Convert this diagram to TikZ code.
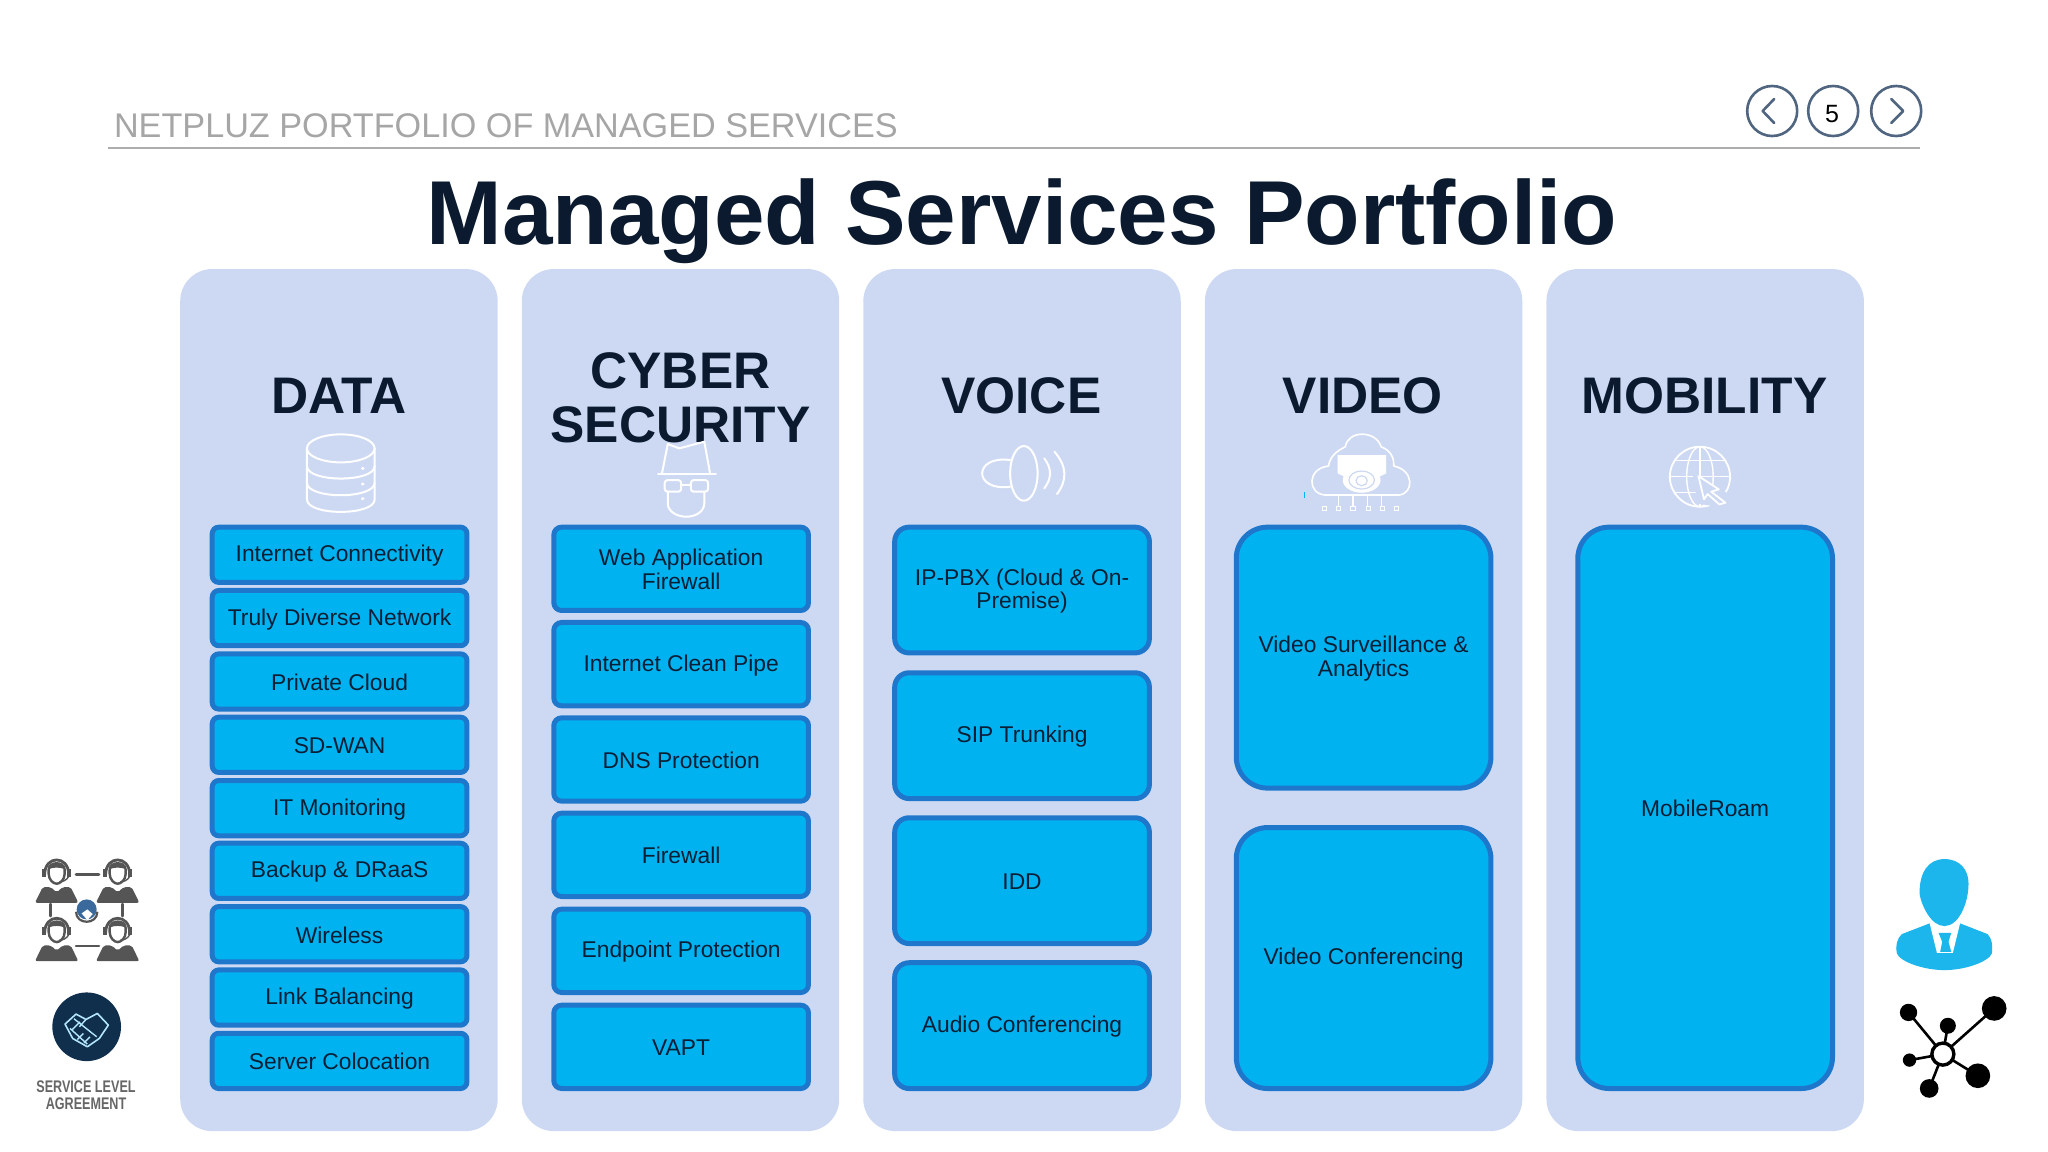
\documentclass[tikz,border=0pt]{standalone}
\usepackage{fontspec}
\setmainfont{Liberation Sans}
\definecolor{panelc}{HTML}{CDD9F3}
\definecolor{boxfill}{HTML}{00B3F0}
\definecolor{boxline}{HTML}{1F77CC}
\definecolor{navy}{HTML}{0B1A2E}
\definecolor{boxtext}{HTML}{0A1F35}
\definecolor{navc}{HTML}{50657F}
\definecolor{agent}{HTML}{555555}
\definecolor{slac}{HTML}{0F2F4C}
\definecolor{person}{HTML}{1CB5EC}
\definecolor{hubblue}{HTML}{3A6A9C}
\tikzset{
 panel/.style={fill=panelc,draw=none,outer sep=0pt,inner sep=0pt},
 svcbox/.style={fill=boxfill,draw=boxline,line width=2.5pt,outer sep=0pt,inner sep=0pt,text=boxtext,align=center,font=\fontsize{11.4}{11.8}\selectfont},
 colhead/.style={text=navy,anchor=base,inner sep=0pt,font=\bfseries\fontsize{25.7}{27}\selectfont,align=center},
 navcirc/.style={draw=navc,line width=1.3pt,fill=white,circle,minimum size=25pt,inner sep=0pt},
 navchev/.style={draw=navc,line width=1.3pt,line cap=round,line join=round},
 ico/.style={draw=white,line width=1pt,line cap=round,line join=round},
 agentln/.style={draw=agent,line width=1.3pt,line cap=round},
}
\newcommand\svc[7]{%
 \pgfmathsetmacro\cxx{(#2+#4)/2}\pgfmathsetmacro\cyy{(#3+#5)/2}%
 \pgfmathsetmacro\ww{(#4-#2-2)*.653}\pgfmathsetmacro\hh{(#5-#3-1.2)*.653}\pgfmathsetmacro\rr{#6*.653}%
 \node[svcbox,rounded corners=\rr pt,minimum width=\ww pt,minimum height=\hh pt] (#1) at (\cxx,\cyy) {\rule{0pt}{9.3pt}#7\rule[-.5pt]{0pt}{.5pt}};}
\newcommand\pnl[2]{%
 \pgfmathsetmacro\cxx{#2+121.5}%
 \node[panel,rounded corners=16pt,minimum width=158.7pt,minimum height=431pt] (#1) at (\cxx,536) {};}
\newcommand\agentico[2]{%
 \begin{scope}[shift={(#1*.16667pt,-#2*.16667pt)}]
  \fill[agent,rounded corners=1pt] (-65,93) -- (-42,46) -- (-18,46) -- (0,62) -- (18,46) -- (42,46) -- (65,93) -- cycle;
  \draw[agent,line width=1.4pt] (-36,8) .. controls (-36,-50) and (36,-50) .. (36,8);
  \fill[agent] (-44,-8) rectangle (-32,16);
  \fill[agent] (32,-8) rectangle (44,16);
  \draw[agent,line width=1.2pt,fill=white] (-24,-6) .. controls (-24,-32) and (24,-32) .. (24,-6) -- (24,6) .. controls (24,24) and (10,36) .. (0,36) .. controls (-10,36) and (-24,24) .. (-24,6) -- cycle;
  \fill[agent] (-24,-8) .. controls (-24,-30) and (24,-30) .. (24,-8) .. controls (8,-14) and (-8,-14) .. (-24,-8) -- cycle;
  \draw[agent,line width=.7pt] (36,14) .. controls (30,26) and (18,30) .. (8,30);
 \end{scope}}
\begin{document}
\begin{tikzpicture}[x=.653pt,y=-.653pt]
\useasboundingbox (0,0) rectangle (1568,882);
\fill[white] (0,0) rectangle (1568,882);
% heading
\node[anchor=base west,inner sep=0pt,text=black!35,font=\fontsize{17.1}{20}\selectfont] (hdr) at (87,105) {NETPLUZ PORTFOLIO OF MANAGED SERVICES};
\coordinate (ruleL) at (83,113.3);
\coordinate (ruleR) at (1470,113.3);
\draw[black!32,line width=1.2pt] (ruleL) -- (ruleR);
\node[anchor=base,inner sep=0pt,text=navy,font=\bfseries\fontsize{45.4}{50}\selectfont] (title) at (782.5,187) {Managed Services Portfolio};
% panels
\pnl{p1}{138}\pnl{p2}{399.5}\pnl{p3}{661}\pnl{p4}{922.5}\pnl{p5}{1184}
% heads
\node[colhead] (hd1) at (259.5,316.5) {DATA};
\node[colhead] (hd2a) at (521,297.5) {CYBER};
\node[colhead] (hd2b) at (521,339) {SECURITY};
\node[colhead] (hd3) at (782,316.5) {VOICE};
\node[colhead] (hd4) at (1043.5,316.5) {VIDEO};
\node[colhead] (hd5) at (1305,316.5) {MOBILITY};
% data
\svc{d1}{161.5}{403}{358.5}{446.5}{5}{Internet Connectivity}
\svc{d2}{161.5}{451.5}{358.5}{495}{5}{Truly Diverse Network}
\svc{d3}{161.5}{500}{358.5}{543.5}{5}{Private Cloud}
\svc{d4}{161.5}{548.5}{358.5}{592}{5}{SD-WAN}
\svc{d5}{161.5}{597}{358.5}{640.5}{5}{IT Monitoring}
\svc{d6}{161.5}{645}{358.5}{688.5}{5}{Backup \& DRaaS}
\svc{d7}{161.5}{693.5}{358.5}{737}{5}{Wireless}
\svc{d8}{161.5}{742}{358.5}{785.5}{5}{Link Balancing}
\svc{d9}{161.5}{790.5}{358.5}{834}{5}{Server Colocation}
% cyber
\svc{c1}{423}{403}{620}{468}{6}{Web Application\\Firewall}
\svc{c2}{423}{476}{620}{541}{6}{Internet Clean Pipe}
\svc{c3}{423}{549}{620}{614}{6}{DNS Protection}
\svc{c4}{423}{622}{620}{687}{6}{Firewall}
\svc{c5}{423}{695.5}{620}{760.5}{6}{Endpoint Protection}
\svc{c6}{423}{769}{620}{834}{6}{VAPT}
% voice
\svc{v1}{684}{403}{881}{500.5}{11}{IP-PBX (Cloud \& On-\\Premise)}
\svc{v2}{684}{514.5}{881}{612}{11}{SIP Trunking}
\svc{v3}{684}{625.5}{881}{723}{11}{IDD}
\svc{v4}{684}{736.5}{881}{834}{11}{Audio Conferencing}
% video
\svc{w1}{945.5}{403}{1142.5}{604}{24}{Video Surveillance \&\\Analytics}
\svc{w2}{945.5}{633}{1142.5}{834}{24}{Video Conferencing}
% mobility
\svc{m1}{1207}{403}{1404}{834}{24}{MobileRoam}
% nav (real px /2)
\begin{scope}[x=.5pt,y=-.5pt]
 \node[navcirc] (navL) at (1772,111) {};
 \node[navcirc] (navN) at (1833,111) {};
 \node[navcirc] (navR) at (1896,111) {};
 \node[anchor=base,inner sep=0pt,font=\fontsize{12.5}{14}\selectfont] (pg) at (1832,122.5) {5};
 \draw[navchev] (1774,99) -- (1762.5,111) -- (1774,123);
 \draw[navchev] (1891,99) -- (1903,111) -- (1891,123);
\end{scope}
% icons from zoom 3
\begin{scope}[x=.1923pt,y=-.16667pt,shift={(130pt,-170pt)}]
 \draw[ico] (210,325) ellipse[x radius=88,y radius=42];
 \draw[ico] (122,325) -- (122,478) .. controls (122,528) and (298,528) .. (298,478) -- (298,325);
 \draw[ico] (122,378) .. controls (122,428) and (298,428) .. (298,378);
 \draw[ico] (122,428) .. controls (122,478) and (298,478) .. (298,428);
 \fill[white] (267,385) circle[radius=5];\fill[white] (267,432) circle[radius=5];\fill[white] (267,476) circle[radius=5];
 % hat man
 \draw[ico] (1035,402) -- (1185,402);
 \draw[ico] (1045,400) -- (1060,312) -- (1090,325) -- (1155,305) -- (1170,400);
 \draw[ico,rounded corners=1.5pt] (1052,420) rectangle (1095,455);
 \draw[ico,rounded corners=1.5pt] (1120,420) rectangle (1165,455);
 \draw[ico] (1095,435) -- (1120,435);
 \draw[ico] (1060,455) -- (1060,490) .. controls (1060,515) and (1085,530) .. (1108,530) .. controls (1132,530) and (1155,515) .. (1155,490) -- (1155,455);
\end{scope}
% icons from zoom 4
\begin{scope}[x=.2551pt,y=-.16667pt,shift={(480pt,-170pt)}]
 \draw[ico] (125,400) ellipse[x radius=27,y radius=82];
 \draw[ico] (98,360) .. controls (25,345) and (25,455) .. (98,440);
 \draw[ico] (165,355) .. controls (180,385) and (180,415) .. (165,445);
 \draw[ico] (185,335) .. controls (210,380) and (210,420) .. (190,462);
 % cloud
 \draw[ico,line width=.8pt] (715,465) .. controls (680,460) and (680,385) .. (722,378) .. controls (725,340) and (750,325) .. (755,320) .. controls (760,270) and (815,270) .. (825,320) .. controls (850,335) and (850,365) .. (850,378) .. controls (890,390) and (890,460) .. (860,465) -- cycle;
 \fill[white] (740,345) -- (835,345) -- (835,400) -- (815,415) -- (760,415) -- (740,400) -- cycle;
 \fill[white] (787,420) ellipse[x radius=37,y radius=38];
 \draw[panelc,line width=.6pt] (787,420) ellipse[x radius=25,y radius=27];
 \draw[panelc,line width=.6pt] (787,422) ellipse[x radius=11,y radius=15];
 \foreach \xx in {742,770,798,826}{\draw[white,line width=.6pt] (\xx,465) -- (\xx,497);}
 \foreach \xx in {715,742,770,800,828,855}{\draw[white,line width=.5pt] (\xx-4,498) rectangle (\xx+4,512);}
 \draw[boxfill,line width=.6pt] (675,457) -- (675,475);
 % globe
 \draw[ico,line width=.9pt] (1450,410) ellipse[x radius=59,y radius=90];
 \draw[ico,line width=.7pt] (1450,410) ellipse[x radius=26,y radius=90];
 \draw[ico,line width=.7pt] (1450,320) -- (1450,500);
 \draw[ico,line width=.7pt] (1392,410) -- (1508,410);
 \draw[ico,line width=.7pt] (1402,362) -- (1498,362);
 \draw[ico,line width=.7pt] (1402,458) -- (1498,458);
 \fill[panelc] (1435,395) -- (1515,470) -- (1500,505) -- (1445,490) -- cycle;
 \draw[ico,line width=.9pt] (1447,408) -- (1487,448) -- (1472,455) -- (1500,488) -- (1488,493) -- (1465,462) -- (1458,478) -- cycle;
\end{scope}
% left icons (zoom 1)
\begin{scope}[x=.16667pt,y=-.16667pt,shift={(0pt,-410pt)}]
 \agentico{170}{155}\agentico{353}{155}\agentico{170}{330}\agentico{353}{330}
 \draw[agentln] (228,163) -- (297,163);
 \draw[agentln] (228,378) -- (297,378);
 \draw[agentln] (152,252) -- (152,288);
 \draw[agentln] (368,252) -- (368,288);
 \fill[hubblue] (260,268) circle[radius=30];
 \fill[white] (245,280) -- (262,268) -- (278,282) -- (262,300) -- cycle;
 \draw[agent,line width=1.1pt] (228,275) .. controls (228,315) and (292,315) .. (292,275);
 \fill[slac] (260,620) circle[radius=103];
 \draw[white!70!cyan,line width=.8pt,line join=round] (195,612) -- (228,582) -- (258,598) -- (292,580) -- (325,615) -- (298,655) -- (262,680) -- (218,655) -- cycle;
 \draw[white!70!cyan,line width=.7pt] (222,596) -- (290,650) (210,625) -- (262,672) (240,605) -- (215,630) (258,598) -- (238,620) (250,640) -- (232,658) (270,650) -- (252,668);
 \node[inner sep=0pt,text=black!60,transform shape,xscale=.75,font=\bfseries\fontsize{8.4}{10}\selectfont] (sla1) at (258,800) {SERVICE LEVEL};
 \node[inner sep=0pt,text=black!60,transform shape,xscale=.75,font=\bfseries\fontsize{8.4}{10}\selectfont] (sla2) at (258,852) {AGREEMENT};
\end{scope}
% right icons (zoom 2)
\begin{scope}[x=.16667pt,y=-.16667pt,shift={(940pt,-420pt)}]
 \fill[person] (148,250) -- (65,282) .. controls (50,295) and (45,320) .. (50,340) .. controls (60,365) and (130,390) .. (193,390) .. controls (255,390) and (325,365) .. (335,340) .. controls (338,315) and (335,295) .. (322,282) -- (240,250) -- cycle;
 \fill[white] (148,248) -- (240,248) -- (218,338) -- (170,338) -- cycle;
 \fill[person] (175,278) -- (213,278) -- (205,305) -- (213,335) -- (180,335) -- (186,305) -- cycle;
 \fill[person] (193,57) .. controls (240,57) and (265,90) .. (265,130) .. controls (265,190) and (235,258) .. (193,258) .. controls (150,258) and (122,190) .. (118,160) .. controls (118,95) and (145,57) .. (193,57) -- cycle;
 \coordinate (hub) at (188,642);
 \foreach \xx/\yy/\rrr in {85/517/26,203/557/24,342/505/37,88/660/20,147/745/28,293/707/37}{
  \draw[black,line width=1.3pt] (hub) -- (\xx,\yy);
  \fill[black] (\xx,\yy) circle[radius=\rrr];}
 \draw[black,line width=1.7pt,fill=white] (hub) circle[radius=33];
\end{scope}
\end{tikzpicture}
\end{document}
